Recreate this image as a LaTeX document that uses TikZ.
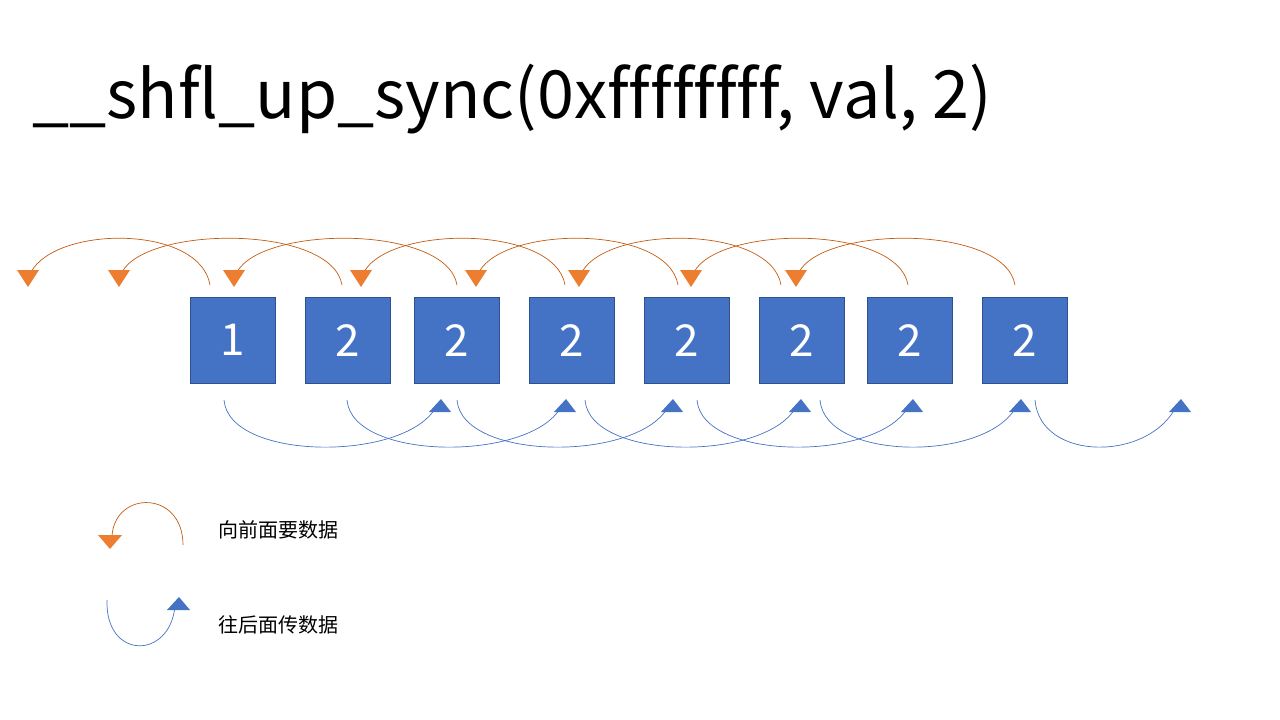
\documentclass[tikz,border=0pt]{standalone}
\usepackage{fontspec}
\setmainfont{Noto Sans CJK SC}[Ligatures=NoCommon]
\newfontfamily\cjk{Noto Sans CJK SC}
\definecolor{boxblue}{HTML}{4472C4}
\definecolor{boxedge}{HTML}{2F528F}
\definecolor{orng}{HTML}{ED7D31}
\definecolor{orline}{HTML}{C55A11}
\definecolor{blline}{HTML}{4472C4}
\begin{document}
\begin{tikzpicture}[x=1pt,y=-1pt,
  cell/.style={draw=boxedge,fill=boxblue,minimum width=85pt,minimum height=86pt,inner sep=0pt,text=white,font=\fontsize{44}{44}\selectfont},
  oarc/.style={draw=orline,line width=0.7pt},
  barc/.style={draw=blline,line width=0.7pt}]
\useasboundingbox (0,0) rectangle (1280,720);
\node[anchor=base west,inner sep=0pt,font=\fontsize{66.5}{66.5}\selectfont] (title) at (32,118) {\_\_shfl\_up\_sync(0xf{}f{}f{}f{}f{}f{}f{}f, val, 2)};
\foreach \x/\v [count=\i] in {190/1,305/2,414/2,529/2,644/2,759/2,867/2,982/2}
  \node[cell,anchor=north west] (b\i) at (\x,297) {\v};
% orange arcs
\foreach \s/\e [count=\i] in {210/27,342/118,457/233,565/360,678/475,781/578,908/690,1015/795}{
  \coordinate (os\i) at (\s,285);
  \coordinate (oe\i) at (\e+4,272);
  \draw[oarc] (os\i) .. controls (\s-10,225) and (\e+30,225) .. (oe\i);
  \fill[orng] (\e-10,270) -- (\e+12,270) -- (\e+1,287) -- cycle;
}
% blue arcs
\foreach \s/\e [count=\i] in {224/440,347/565,457/672,585/800,697/912,820/1020,1035/1180}{
  \coordinate (bs\i) at (\s,400);
  \coordinate (be\i) at (\e-3,405);
  \draw[barc] (bs\i) .. controls (\s+5,462) and (\e-30,462) .. (be\i);
  \fill[boxblue] (\e-11,412) -- (\e+11,412) -- (\e+1,399) -- cycle;
}
% legend
\coordinate (l1s) at (183,545);
\coordinate (l1e) at (112,536);
\draw[oarc] (l1s) .. controls (183,490) and (115,490) .. (l1e);
\fill[orng] (98,535) -- (122,535) -- (110,549) -- cycle;
\node[anchor=west,font=\cjk\fontsize{20}{20}\selectfont] (t1) at (215,530) {向前面要数据};
\coordinate (l2s) at (107,600);
\coordinate (l2e) at (175,606);
\draw[barc] (l2s) .. controls (105,660) and (170,660) .. (l2e);
\fill[boxblue] (167,610) -- (190,610) -- (179,597) -- cycle;
\node[anchor=west,font=\cjk\fontsize{20}{20}\selectfont] (t2) at (215,625) {往后面传数据};
\end{tikzpicture}
\end{document}
